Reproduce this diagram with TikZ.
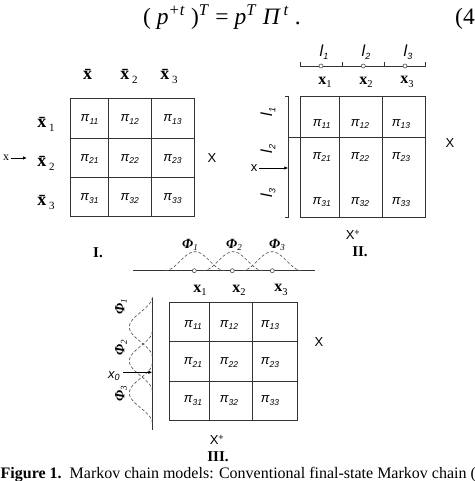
\documentclass[tikz,border=0pt]{standalone}
\usepackage{fontspec}
\usetikzlibrary{arrows.meta}
\setmainfont{Liberation Serif}
\setsansfont{Liberation Sans}
\newcommand{\pis}[1]{\textit{π}\raisebox{-0.35ex}{\fontsize{8.5}{9}\selectfont\itshape #1}}
\newcommand{\xb}[1]{\textbf{\=x}\raisebox{-0.45ex}{\fontsize{11}{11}\selectfont #1}}
\newcommand{\xbold}[1]{\textbf{x}\raisebox{-0.45ex}{\fontsize{10.5}{10.5}\selectfont #1}}
\newcommand{\ls}[1]{\textit{l}\raisebox{-0.4ex}{\fontsize{9}{9}\selectfont\itshape #1}}
\newcommand{\phis}[1]{\textbf{\textit{Φ}}\raisebox{-0.4ex}{\fontsize{9}{9}\selectfont\itshape #1}}
\begin{document}
\begin{tikzpicture}[x=1pt,y=-1pt,
  gridline/.style={draw=black!80,line width=0.9pt},
  pilab/.style={font=\fontsize{13}{13}\sffamily, inner sep=0pt},
  xlab/.style={font=\fontsize{16}{16}\rmfamily, inner sep=0pt},
  xbarlab/.style={font=\fontsize{18}{18}\rmfamily, inner sep=0pt},
  biglab/.style={font=\fontsize{13}{13}\sffamily, inner sep=0pt},
  romlab/.style={font=\fontsize{15}{15}\rmfamily\bfseries, inner sep=0pt},
  bell/.style={densely dashed, draw=black!70, line width=0.6pt},
  dot/.style={circle, draw=black!70, fill=white, inner sep=0pt, minimum size=4pt, line width=0.6pt},
  arr/.style={-{Latex[length=4pt,width=3.5pt]}, line width=0.8pt}]
\fill[white] (0,0) rectangle (474,481);
\clip (0,0) rectangle (474,481);
% equation
\node[font=\fontsize{23.5}{24}\rmfamily, anchor=base] (eq) at (222,25)
 {( \textit{p}\textsuperscript{\textit{+t}} )\textsuperscript{\textit{T}} = \textit{p}\textsuperscript{\textit{T}} \textit{Π}\textsuperscript{\,\textit{t}} .};
\node[font=\fontsize{23.5}{24}\rmfamily, anchor=base west, inner sep=0pt] (eqn) at (455,25) {(4)};

% ---------- Panel I ----------
\draw[gridline] (70.7,98.3) rectangle (194,216.7);
\draw[gridline] (108.3,98.3) -- (108.3,216.7) (151,98.3) -- (151,216.7)
  (70.7,138.3) -- (194,138.3) (70.7,177.7) -- (194,177.7);
\foreach \r/\yy in {1/119.5,2/159,3/198.5}{
  \foreach \c/\xx in {1/89.5,2/129.7,3/172.5}{
    \node[pilab] (a\r\c) at (\xx,\yy) {\pis{\r\c}};}}
\node[xbarlab] (ac1) at (89,76) {\xb{}};
\node[xbarlab] (ac2) at (129,76) {\xb{2}};
\node[xbarlab] (ac3) at (169,76) {\xb{3}};
\node[xbarlab] (ar1) at (46,124) {\xb{1}};
\node[xbarlab] (ar2) at (46,163) {\xb{2}};
\node[xbarlab] (ar3) at (46,202) {\xb{3}};
\node[font=\fontsize{12}{12}\rmfamily, inner sep=0pt] (ax) at (6,158) {x};
\coordinate (axe) at (27,158);
\draw[arr] (ax.east) ++(2,0) -- (axe);
\node[biglab] (aX) at (212,158) {X};
\node[romlab] (aI) at (98,253) {I.};

% ---------- Panel II ----------
\draw[gridline] (300.7,96.7) rectangle (425,217.3);
\draw[gridline] (339,96.7) -- (339,217.3) (382.7,96.7) -- (382.7,217.3)
  (288.3,137.3) -- (425,137.3);
\draw[gridline] (285,96.7) -- (288.3,96.7) -- (288.3,217.3) -- (285,217.3);
\foreach \r/\yy in {1/124,2/157,3/202}{
  \foreach \c/\xx in {1/321.7,2/360,3/401}{
    \node[pilab] (b\r\c) at (\xx,\yy) {\pis{\r\c}};}}
\draw[gridline, line width=0.7pt] (300.7,62) -- (300.7,66) -- (425,66) -- (425,62)
  (342.7,62) -- (342.7,66) (384,62) -- (384,66);
\node[dot] (bd1) at (321,66) {};
\node[dot] (bd2) at (363.3,66) {};
\node[dot] (bd3) at (405,66) {};
\node[font=\fontsize{16}{16}\sffamily, inner sep=0pt] (bl1) at (324,52) {\ls{1}};
\node[font=\fontsize{16}{16}\sffamily, inner sep=0pt] (bl2) at (366,52) {\ls{2}};
\node[font=\fontsize{16}{16}\sffamily, inner sep=0pt] (bl3) at (408,52) {\ls{3}};
\node[xlab] (bx1) at (325,82) {\xbold{1}};
\node[xlab] (bx2) at (366,82) {\xbold{2}};
\node[xlab] (bx3) at (407,82) {\xbold{3}};
\node[font=\fontsize{16}{16}\sffamily, inner sep=0pt, rotate=90] (bv1) at (268,112) {\ls{1}};
\node[font=\fontsize{16}{16}\sffamily, inner sep=0pt, rotate=90] (bv2) at (268,149) {\ls{2}};
\node[font=\fontsize{16}{16}\sffamily, inner sep=0pt, rotate=90] (bv3) at (268,193) {\ls{3}};
\node[font=\fontsize{13}{13}\sffamily, inner sep=0pt] (bx) at (254,168) {x};
\coordinate (bxe) at (288.3,168);
\draw[arr] (bx.east) ++(2,0) -- (bxe);
\node[biglab] (bX) at (450,143) {X};
\node[biglab] (bXp) at (353,235) {X\textsuperscript{+}};
\node[romlab] (bII) at (360,252) {II.};

% ---------- Panel III ----------
\draw[gridline] (169.3,302.7) rectangle (297.3,420);
\draw[gridline] (209.3,302.7) -- (209.3,420) (252.7,302.7) -- (252.7,420)
  (169.3,341.7) -- (297.3,341.7) (169.3,381) -- (297.3,381);
\foreach \r/\yy in {1/325,2/362.7,3/400.7}{
  \foreach \c/\xx in {1/193,2/229,3/270}{
    \node[pilab] (c\r\c) at (\xx,\yy) {\pis{\r\c}};}}
% top axis with bells
\draw[gridline, line width=0.8pt] (133.3,270.7) -- (315,270.7);
\foreach \cx in {195,233,272}{
  \draw[bell] plot[domain=-30:30, samples=41] ({\cx+\x},{270.7-19*(0.5+0.5*cos(6*\x))});}
\node[dot] (cd1) at (194.3,270.7) {};
\node[dot] (cd2) at (232.3,270.7) {};
\node[dot] (cd3) at (272.3,270.7) {};
\node[font=\fontsize{14}{14}\rmfamily, inner sep=0pt] (cp1) at (190,245) {\phis{1}};
\node[font=\fontsize{14}{14}\rmfamily, inner sep=0pt] (cp2) at (234,245) {\phis{2}};
\node[font=\fontsize{14}{14}\rmfamily, inner sep=0pt] (cp3) at (277,245) {\phis{3}};
\node[xlab] (cx1) at (200,290) {\xbold{1}};
\node[xlab] (cx2) at (239,290) {\xbold{2}};
\node[xlab] (cx3) at (281,290) {\xbold{3}};
% left axis with bells
\draw[gridline, line width=0.8pt] (152.3,298) -- (152.3,430);
\foreach \cy in {327,361,393}{
  \draw[bell] plot[domain=-30:30, samples=41] ({152.3-23*(0.5+0.5*cos(6*\x))},{\cy+\x});}
\node[font=\fontsize{14}{14}\rmfamily, inner sep=0pt, rotate=90] (cv1) at (121,307) {\phis{1}};
\node[font=\fontsize{14}{14}\rmfamily, inner sep=0pt, rotate=90] (cv2) at (121,348) {\phis{2}};
\node[font=\fontsize{14}{14}\rmfamily, inner sep=0pt, rotate=90] (cv3) at (121,394) {\phis{3}};
\node[font=\fontsize{13}{13}\sffamily\itshape, inner sep=0pt] (cx0) at (114,376) {x\raisebox{-0.4ex}{\fontsize{9}{9}\selectfont 0}};
\coordinate (cxe) at (152.3,372.3);
\draw[arr] (123,372.3) -- (cxe);
\node[biglab] (cX) at (319,342) {X};
\node[biglab] (cXp) at (217,440) {X\textsuperscript{+}};
\node[romlab] (cIII) at (218,457) {III.};

% caption
\node[font=\fontsize{16}{16}\rmfamily, anchor=base west, inner sep=0pt] (cap) at (0.5,478)
 {\textbf{Figure 1.}\ \ Markov chain models: Conventional final-state Markov chain (};
\end{tikzpicture}
\end{document}
